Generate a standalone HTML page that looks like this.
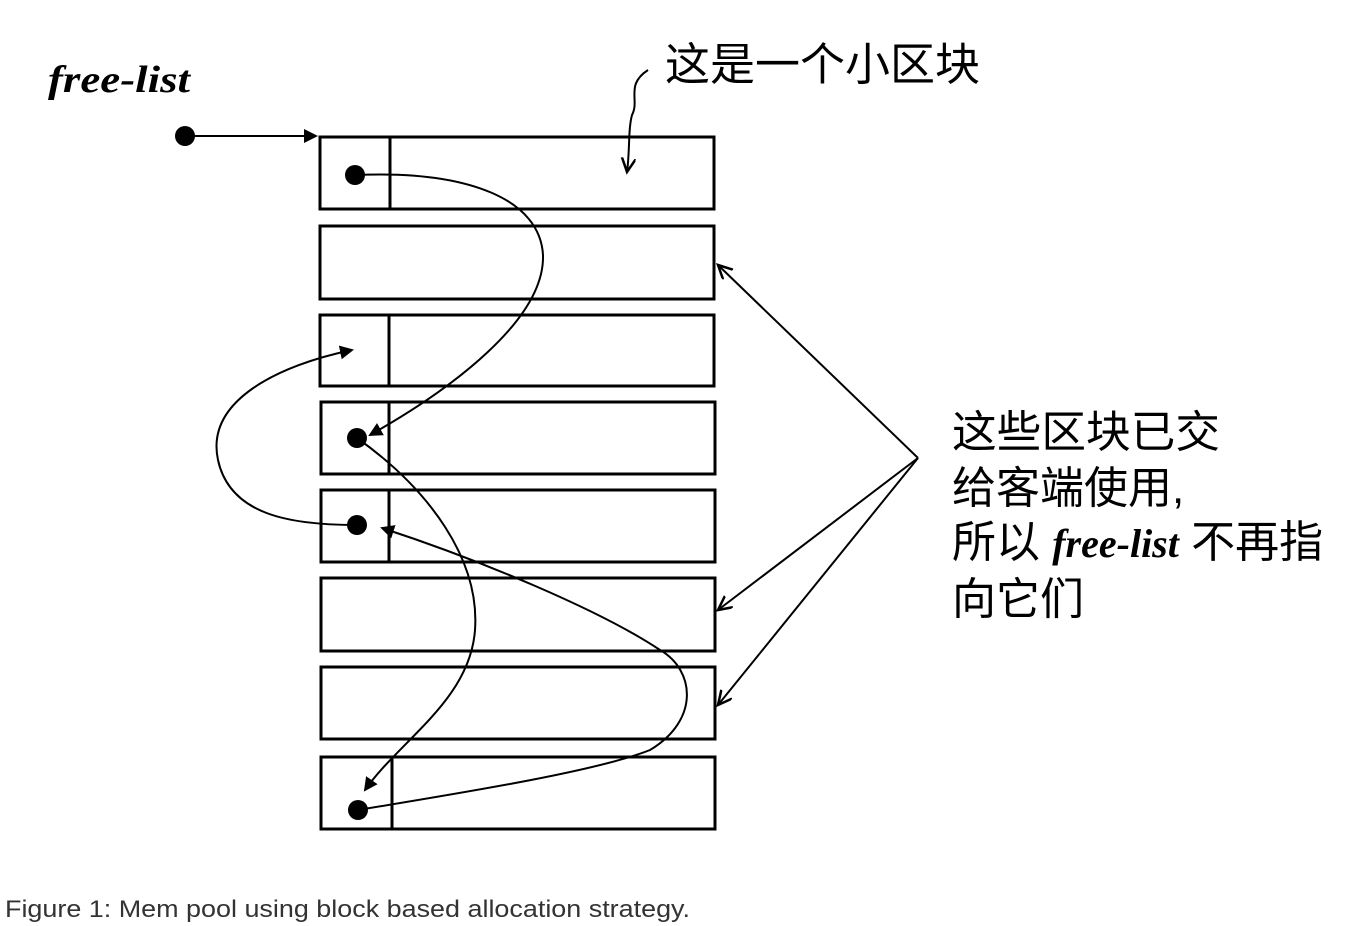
<!DOCTYPE html>
<html><head><meta charset="utf-8"><style>
html,body{margin:0;padding:0;background:#fff;width:1352px;height:926px;overflow:hidden}
</style></head><body>
<svg width="1352" height="926" viewBox="0 0 1352 926" xmlns="http://www.w3.org/2000/svg">
<defs>
<marker id="a" markerWidth="16" markerHeight="16" refX="12" refY="7" orient="auto" markerUnits="userSpaceOnUse"><path d="M0,0 L14,7 L0,14 z" fill="#000"/></marker>
<marker id="o" markerWidth="18" markerHeight="18" refX="14" refY="7" orient="auto" markerUnits="userSpaceOnUse"><path d="M0,0 L14,7 L0,14" fill="none" stroke="#000" stroke-width="2.5"/></marker>
</defs>
<g fill="none" stroke="#000" stroke-width="3">
<rect x="320" y="137" width="394" height="72"/>
<rect x="320" y="226" width="394" height="73"/>
<rect x="320" y="315" width="394" height="71"/>
<rect x="321" y="402" width="394" height="72"/>
<rect x="321" y="490" width="394" height="72"/>
<rect x="321" y="578" width="394" height="73"/>
<rect x="321" y="667" width="394" height="72"/>
<rect x="321" y="757" width="394" height="72"/>
<line x1="390" y1="137" x2="390" y2="209"/>
<line x1="389" y1="315" x2="389" y2="386"/>
<line x1="389" y1="402" x2="389" y2="474"/>
<line x1="389" y1="490" x2="389" y2="562"/>
<line x1="392" y1="757" x2="392" y2="829"/>
</g>
<g fill="#000">
<circle cx="185" cy="136" r="10"/>
<circle cx="355" cy="175" r="10"/>
<circle cx="357" cy="438" r="10"/>
<circle cx="357" cy="525" r="10"/>
<circle cx="358" cy="810" r="10"/>
</g>
<g fill="none" stroke="#000" stroke-width="2">
<line x1="185" y1="136" x2="316" y2="136" marker-end="url(#a)"/>
<path d="M355,175 C470,170 540,200 543,255 C545,320 450,390 370,435" marker-end="url(#a)"/>
<path d="M357,438 C430,490 480,560 475,630 C470,700 400,740 365,790" marker-end="url(#a)"/>
<path d="M358,810 C480,790 600,770 650,750 C700,720 695,670 660,650 C600,610 480,560 382,528" marker-end="url(#a)"/>
<path d="M357,525 C290,525 230,515 218,460 C205,400 280,365 352,350" marker-end="url(#a)"/>
<path d="M918,458 L718,265" marker-end="url(#o)"/>
<path d="M918,458 L718,610" marker-end="url(#o)"/>
<path d="M918,458 L718,705" marker-end="url(#o)"/>
<path d="M648,70 C625,85 640,100 632,115 C628,130 630,150 627,172" marker-end="url(#o)"/>
</g>
<text x="48" y="92" font-family="Liberation Serif, serif" font-style="italic" font-weight="bold" font-size="38" textLength="142" lengthAdjust="spacingAndGlyphs">free-list</text>
<text x="665" y="80" font-family="Liberation Sans, Noto Sans CJK SC, sans-serif" font-size="45" textLength="315" lengthAdjust="spacingAndGlyphs">这是一个小区块</text>
<g font-family="Liberation Sans, Noto Sans CJK SC, sans-serif" font-size="44">
<text x="952" y="447" textLength="268" lengthAdjust="spacingAndGlyphs">这些区块已交</text>
<text x="952" y="503">给客端使用,</text>
<text x="952" y="557">所以 <tspan font-family="Liberation Serif, serif" font-style="italic" font-weight="bold" font-size="40">free-list</tspan> 不再指</text>
<text x="952" y="614">向它们</text>
</g>
<text x="5" y="917" font-family="Liberation Sans, sans-serif" font-size="24" fill="#333" textLength="685" lengthAdjust="spacingAndGlyphs">Figure 1: Mem pool using block based allocation strategy.</text>
</svg>
</body></html>
